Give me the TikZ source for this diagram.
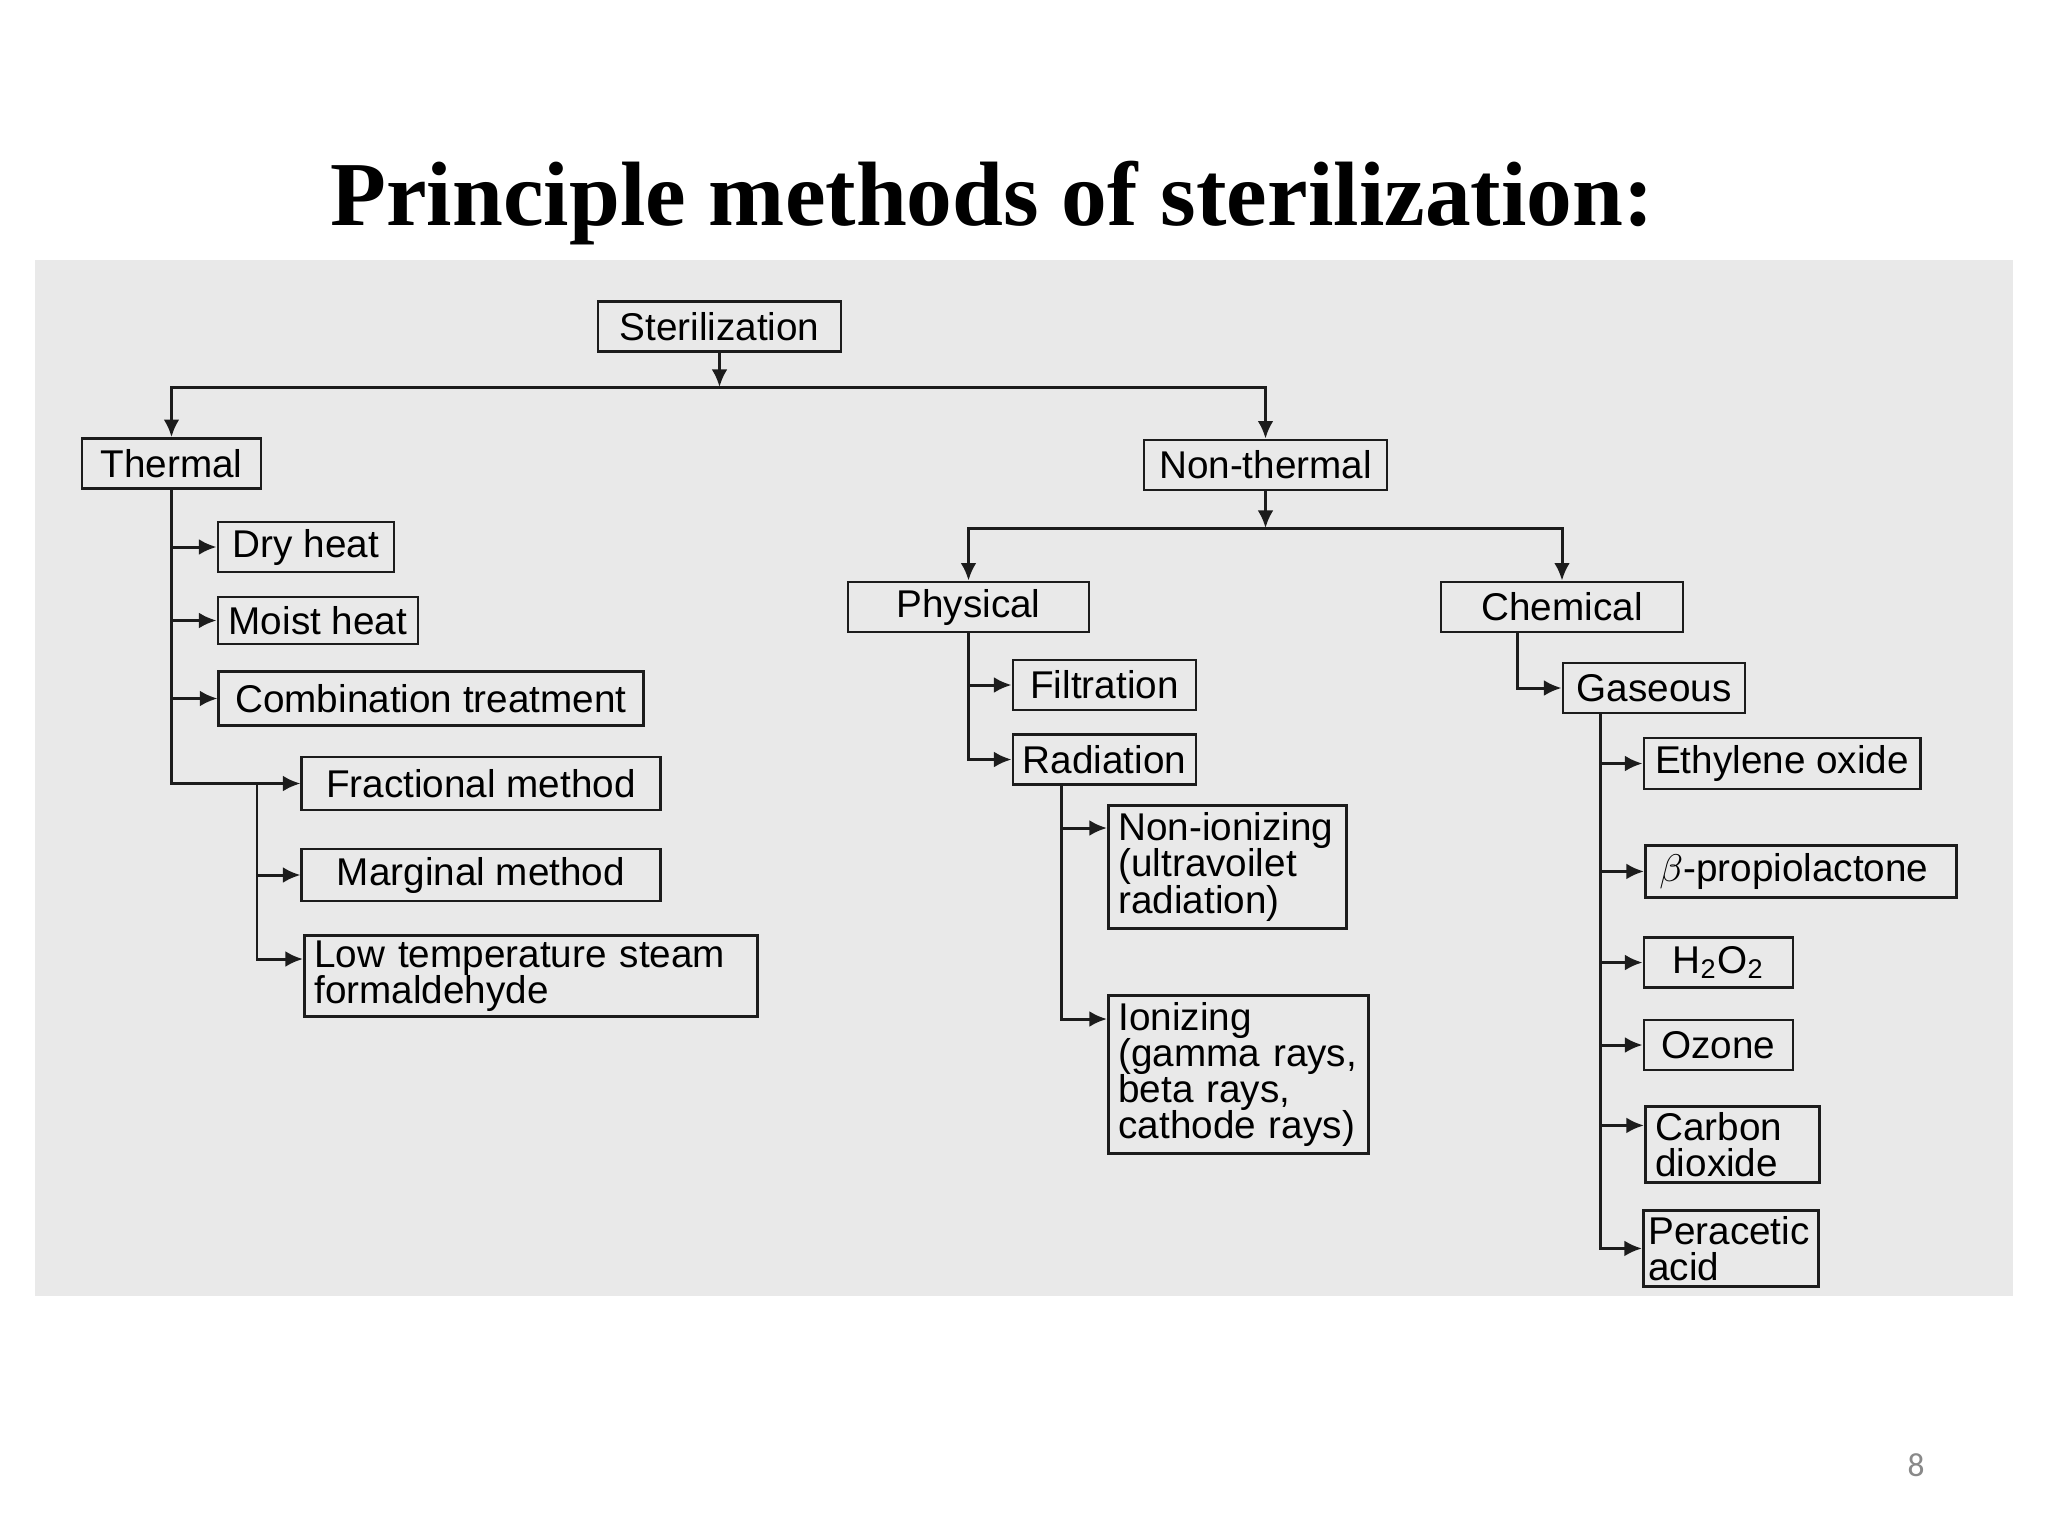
\documentclass[tikz,border=0pt]{standalone}
\usepackage{fontspec}
\setmainfont{Liberation Sans}
\newfontfamily\titlefont{Liberation Serif}
\newfontfamily\numfont{Carlito}
\usetikzlibrary{arrows.meta}
\definecolor{panelgray}{RGB}{233,233,233}
\definecolor{inkgray}{RGB}{28,28,28}
\definecolor{numgray}{RGB}{137,137,137}
\newcommand\boxfont{\fontsize{11}{10.3}\selectfont\lineskiplimit=-6pt\relax}

\begin{document}
\begin{tikzpicture}[x=0.01cm,y=-0.01cm,
  box/.style={draw=inkgray,line width=0.8pt,inner sep=0pt,minimum height=0.5cm,font=\boxfont},
  lbox/.style={box,align=left,inner xsep=0.1cm,anchor=north west},
  arr/.style={draw=inkgray,line width=0.85pt,-{Latex[length=5pt,width=4.5pt]}}]
\useasboundingbox (0,0) rectangle (2048,1536);
\fill[white] (0,0) rectangle (2048,1536);
\fill[panelgray] (35,260) rectangle (2013,1296);

\node[anchor=base,font=\titlefont\bfseries\fontsize{26}{30}\selectfont] (title) at (992,225) {Principle methods of sterilization:};
\node[font=\numfont\fontsize{9.5}{11}\selectfont,text=numgray] (pagenum) at (1916,1465) {8};

\node[box,minimum width=2.43cm] (steril) at (719.5,326.5) {Sterilization};
\node[box,minimum width=1.79cm] (thermal) at (171.5,463.5) {Thermal};
\node[box,minimum width=2.43cm] (nonth) at (1265.5,465) {Non-thermal};

\node[box,minimum width=1.76cm] (dry) at (306,547) {Dry heat};
\node[box,minimum width=2.00cm,minimum height=0.47cm] (moist) at (318,620.5) {Moist heat};
\node[box,minimum width=4.24cm,minimum height=0.54cm] (comb) at (431,698.5) {Combination treatment};
\node[box,minimum width=3.58cm,minimum height=0.53cm] (frac) at (481,783.5) {Fractional method};
\node[box,minimum width=3.58cm,minimum height=0.52cm] (marg) at (481,875) {Marginal method};
\node[lbox,text width=4.33cm,minimum height=0.81cm] (lowtemp) at (303,934) {Low temperature steam\\formaldehyde};

\node[box,minimum width=2.41cm] (phys) at (968.5,607) {Physical};
\node[box,minimum width=1.83cm] (filt) at (1104.5,685) {Filtration};
\node[box,minimum width=1.83cm] (rad) at (1104.5,759.5) {Radiation};
\node[lbox,text width=2.18cm,minimum height=1.23cm] (nonion) at (1107,804) {Non-ionizing\\(ultravoilet\\radiation)};
\node[lbox,text width=2.40cm,minimum height=1.58cm] (ion) at (1107,994) {Ionizing\\(gamma rays,\\beta rays,\\cathode rays)};

\node[box,minimum width=2.42cm] (chem) at (1562,607) {Chemical};
\node[box,minimum width=1.82cm] (gas) at (1654,688) {Gaseous};
\node[box,minimum width=2.76cm,minimum height=0.51cm] (eth) at (1782,763.5) {Ethylene oxide};
\node[lbox,inner xsep=0.14cm,text width=2.83cm,minimum height=0.52cm] (beta) at (1644,844) {$\beta$-propiolactone};
\node[box,minimum width=1.49cm] (hperox) at (1718.5,962.5) {H\textsubscript{2}O\textsubscript{2}};
\node[box,minimum width=1.49cm] (ozone) at (1718.5,1045) {Ozone};
\node[lbox,text width=1.54cm,minimum height=0.76cm] (co2) at (1644,1105) {Carbon\\dioxide};
\node[lbox,inner xsep=0.05cm,text width=1.65cm,minimum height=0.76cm] (perac) at (1642,1209) {Peracetic\\acid};

\coordinate (sj) at (719.5,387);
\draw[arr] (steril) -- (sj);
\draw[arr] (sj) -| (thermal);
\draw[arr] (sj) -| (nonth);

\coordinate (nj) at (1265.5,528);
\draw[arr] (nonth) -- (nj);
\draw[arr] (nj) -| (phys);
\draw[arr] (nj) -| (chem);

\foreach \n in {dry,moist,comb,frac}
  \draw[arr] (thermal.south) |- (\n);
\coordinate (fj) at (257,783.5);
\draw[arr] (fj) |- (marg);
\draw[arr] (fj) |- ([yshift=-0.25cm]lowtemp.north west);

\draw[arr] (phys.south) |- (filt);
\draw[arr] (phys.south) |- (rad);
\coordinate (rj) at ([xshift=0.5cm]rad.south west);
\draw[arr] (rj) |- ([yshift=-0.24cm]nonion.north west);
\draw[arr] (rj) |- ([yshift=-0.25cm]ion.north west);

\draw[arr] ([xshift=0.78cm]chem.south west) |- (gas);
\coordinate (gj) at ([xshift=0.39cm]gas.south west);
\foreach \n in {eth,beta,hperox,ozone,perac}
  \draw[arr] (gj) |- (\n);
\draw[arr] (gj) |- ([yshift=0.19cm]co2.west);
\end{tikzpicture}
\end{document}
